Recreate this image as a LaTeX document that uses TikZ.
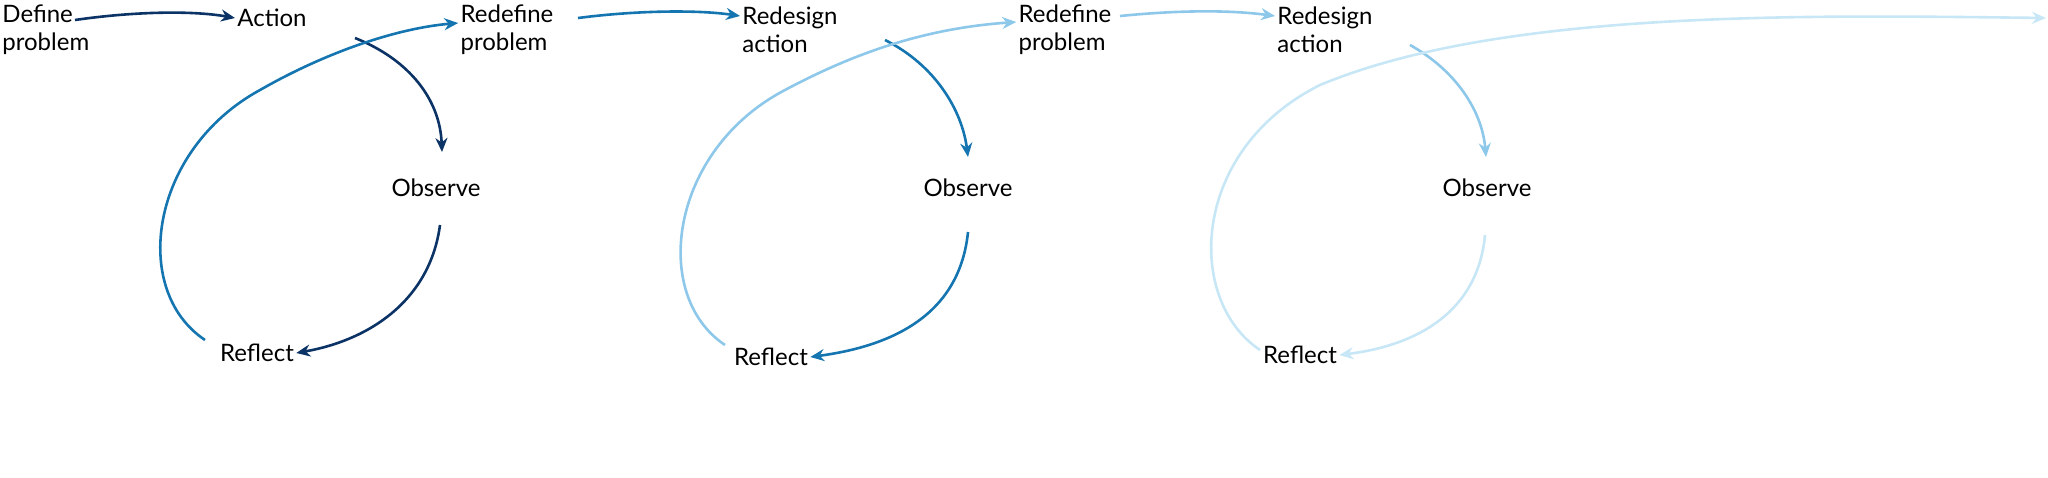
\documentclass[tikz,border=0pt]{standalone}
\usepackage{fontspec}
\setmainfont{Lato}
\usetikzlibrary{arrows.meta}
\definecolor{cA}{HTML}{0B3366}
\definecolor{cB}{HTML}{1575B0}
\definecolor{cC}{HTML}{8DC8EA}
\definecolor{cD}{HTML}{C8E7F6}
\tikzset{lbl/.style={font=\fontsize{12}{14}\selectfont,align=left,inner sep=1pt},
 arr/.style={line width=1.3pt,-{Stealth[length=7pt,width=6pt]}}}
\begin{document}
\begin{tikzpicture}[x=0.5pt,y=-0.5pt]
\useasboundingbox (0,0) rectangle (2048,477);
% cycle 1
\node[lbl,anchor=west] (dp) at (0,30) {Define\\problem};
\node[lbl] (a1) at (272,18) {Action};
\node[lbl] (o1) at (436,188) {Observe};
\node[lbl] (r1) at (257,353) {Reflect};
\node[lbl] (rp1) at (507,30) {Redefine\\problem};
% cycle 2
\node[lbl] (ra2) at (790,30) {Redesign\\action};
\node[lbl] (o2) at (968,188) {Observe};
\node[lbl] (r2) at (771,357) {Reflect};
\node[lbl] (rp2) at (1065,30) {Redefine\\problem};
% cycle 3
\node[lbl] (ra3) at (1325,30) {Redesign\\action};
\node[lbl] (o3) at (1487,188) {Observe};
\node[lbl] (r3) at (1300,355) {Reflect};
\coordinate (end) at (2046,18);
% arrows cycle 1
\draw[arr,cA] (75,20) .. controls (130,12) and (190,10) .. (a1.west);
\draw[arr,cA] (355,38) .. controls (410,60) and (440,100) .. (442,152);
\draw[arr,cA] (440,225) .. controls (430,300) and (370,340) .. (r1.east);
\draw[arr,cB] (205,340) .. controls (130,290) and (150,150) .. (260,90) .. controls (330,50) and (400,28) .. (rp1.west|-0,23);
% cycle 2
\draw[arr,cB] (578,18) .. controls (640,10) and (700,10) .. (ra2.west|-0,16);
\draw[arr,cB] (885,40) .. controls (935,65) and (962,110) .. (968,157);
\draw[arr,cB] (968,232) .. controls (960,310) and (900,345) .. (r2.east);
\draw[arr,cC] (725,345) .. controls (650,295) and (670,150) .. (785,90) .. controls (860,50) and (930,28) .. (rp2.west|-0,22);
% cycle 3
\draw[arr,cC] (1120,16) .. controls (1180,10) and (1230,10) .. (ra3.west|-0,16);
\draw[arr,cC] (1410,45) .. controls (1455,70) and (1482,110) .. (1486,157);
\draw[arr,cD] (1485,235) .. controls (1478,310) and (1420,345) .. (r3.east);
\draw[arr,cD] (1260,350) .. controls (1185,300) and (1190,150) .. (1320,85) .. controls (1500,10) and (1800,15) .. (end);
\end{tikzpicture}
\end{document}
